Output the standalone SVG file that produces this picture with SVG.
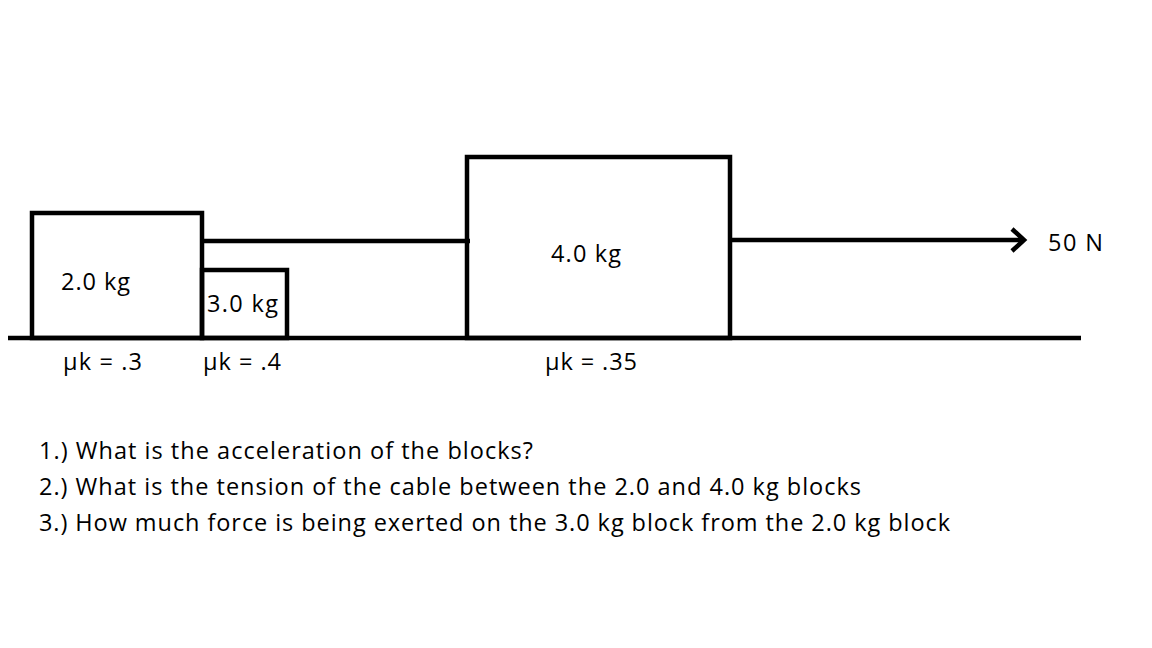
<svg xmlns="http://www.w3.org/2000/svg" width="1152" height="648" viewBox="0 0 1152 648">
<style>
.s{fill:none;stroke:#000;stroke-width:4.5}
text{font-family:"Open Sans","Noto Sans",sans-serif;font-size:23.5px;fill:#000}
</style>
<rect width="1152" height="648" fill="#fff"/>
<g id="ground"><line class="s" x1="8" y1="338" x2="1081" y2="338"/></g>
<g id="block2"><rect class="s" x="32" y="213" width="170" height="125"/><text x="61" y="290" textLength="69" lengthAdjust="spacing">2.0 kg</text><text x="63" y="370" textLength="79" lengthAdjust="spacing">µk = .3</text></g>
<g id="block3"><rect class="s" x="202" y="270" width="85" height="68"/><text x="207" y="312" textLength="71" lengthAdjust="spacing">3.0 kg</text><text x="203" y="370" textLength="78" lengthAdjust="spacing">µk = .4</text></g>
<g id="block4"><rect class="s" x="467" y="157" width="263" height="181"/><text x="551" y="262" textLength="70" lengthAdjust="spacing">4.0 kg</text><text x="545" y="370" textLength="92" lengthAdjust="spacing">µk = .35</text></g>
<g id="connectors">
<line class="s" x1="202" y1="241" x2="470" y2="241"/>
<line class="s" x1="730" y1="240" x2="1023" y2="240"/>
<polyline class="s" points="1012,229 1024,240 1012,251"/>
</g>
<text x="1048" y="251" textLength="55" lengthAdjust="spacing">50 N</text>
<text x="39" y="459" textLength="494" lengthAdjust="spacing">1.) What is the acceleration of the blocks?</text>
<text x="39" y="495" textLength="822" lengthAdjust="spacing">2.) What is the tension of the cable between the 2.0 and 4.0 kg blocks</text>
<text x="39" y="531" textLength="911" lengthAdjust="spacing">3.) How much force is being exerted on the 3.0 kg block from the 2.0 kg block</text>
</svg>
